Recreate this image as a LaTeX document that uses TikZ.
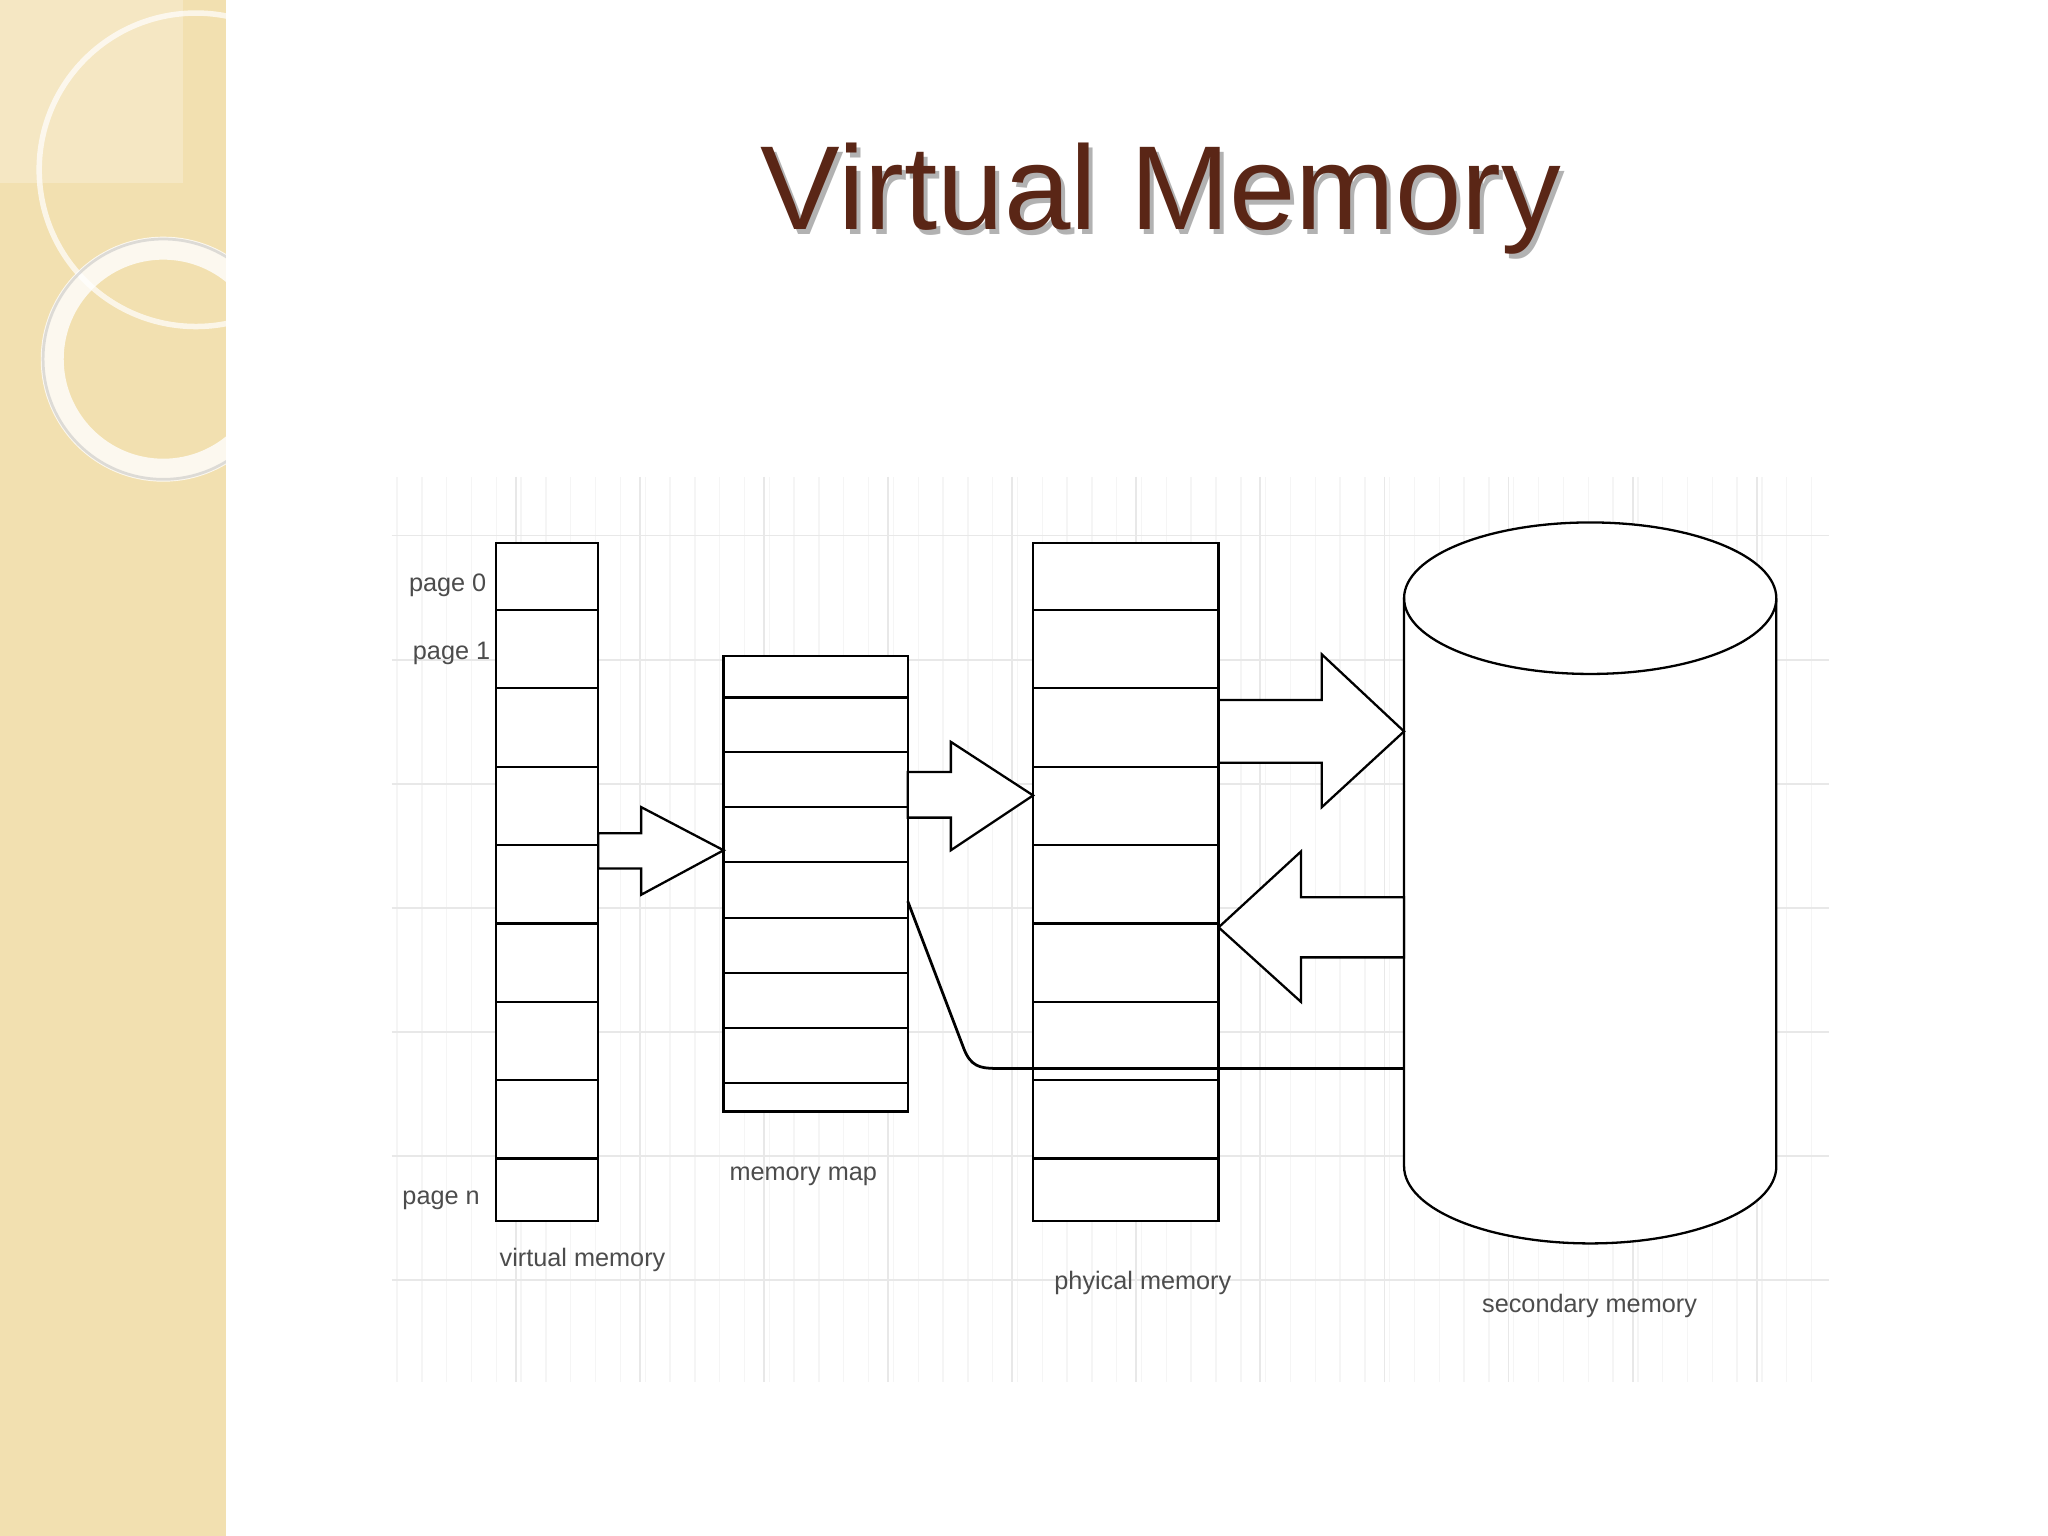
\documentclass[tikz,border=0pt]{standalone}
\usepackage{fontspec}
\setmainfont{Liberation Sans}
\usetikzlibrary{calc}
\definecolor{panel}{HTML}{F2E0B0}
\definecolor{titlebrown}{HTML}{5A2616}
\tikzset{
    cell/.style={draw=black, fill=white, line width=0.5pt},
    lab/.style={font=\fontsize{5.5}{6}\selectfont, text=black!70},
    blockarrow/.style={draw=black, fill=white, line width=0.5pt},
}
\begin{document}
\begin{tikzpicture}[x=0.01cm, y=-0.01cm]
    \useasboundingbox (0,0) rectangle (1568,1176);
    \fill[white] (0,0) rectangle (1568,1176);

    % left panel
    \begin{scope}
    \clip (0,0) rectangle (173,1176);
    \fill[panel] (0,0) rectangle (173,1176);
    \fill[white, opacity=0.25] (0,0) rectangle (140,140);
    \draw[white, opacity=0.7, line width=1.2pt] (150,130) circle [radius=120];
    \draw[white, opacity=0.8, line width=5pt] (125,275) circle [radius=85];
    \draw[black!25, opacity=0.5, line width=0.6pt] (125,275) circle [radius=92];
    \end{scope}

    % title
    \node[text=black!30, font=\fontsize{26}{30}\selectfont] at (892,156) {Virtual Memory};
    \node[text=titlebrown, font=\fontsize{26}{30}\selectfont] (title) at (889,152) {Virtual Memory};

    % grid
    \draw[black!4, line width=0.3pt, step=19] (300,365) grid (1400,1058);
    \foreach \gx in {395,490,585,680,775,870,965,1060,1155,1250,1345}
        \draw[black!9, line width=0.4pt] (\gx,365) -- (\gx,1058);
    \foreach \gy in {410,505,600,695,790,885,980}
        \draw[black!9, line width=0.4pt] (300,\gy) -- (1400,\gy);

    % virtual memory
    \newcommand\vmL{380}
    \newcommand\vmR{458}
    \foreach \ya/\yb in {416/467,467/527,527/587,587/647,647/707,707/767,767/827,827/887,887/935}
        \draw[cell] (\vmL,\ya) rectangle (\vmR,\yb);
    \node[lab, anchor=east, inner sep=0pt] (page0) at (373,448) {page 0};
    \node[lab, anchor=east, inner sep=0pt] (page1) at (376,500) {page 1};
    \node[lab, anchor=east, inner sep=0pt] (pagen) at (368,919) {page n};
    \node[lab] (labVM) at (446,965) {virtual memory};

    % memory map
    \newcommand\mmL{554}
    \newcommand\mmR{695}
    \foreach \ya/\yb in {502/534,534/576,576/618,618/660,660/703,703/745,745/787,787/829,829/851}
        \draw[cell] (\mmL,\ya) rectangle (\mmR,\yb);
    \node[lab] (labMM) at (615,901) {memory map};

    % physical memory
    \newcommand\pmL{791}
    \newcommand\pmR{933}
    \foreach \ya/\yb in {416/467,467/527,527/587,587/647,647/707,707/767,767/827,827/887,887/935}
        \draw[cell] (\pmL,\ya) rectangle (\pmR,\yb);
    \node[lab] (labPM) at (875,982) {phyical memory};

    % secondary memory
    \draw[cell] (1075,458) -- (1075,893) arc[start angle=180, end angle=360, x radius=142.5, y radius=-59]
        -- (1360,458) arc[start angle=0, end angle=180, x radius=142.5, y radius=-58] -- cycle;
    \draw[line width=0.5pt] (1075,458) arc[start angle=180, end angle=360, x radius=142.5, y radius=-58];
    \node[lab] (labSM) at (1217,1000) {secondary memory};

    % block arrows
    \draw[blockarrow] (458,638) -- (491,638) -- (491,618) -- (554,651) -- (491,685) -- (491,665) -- (458,665) -- cycle;
    \draw[blockarrow] (695,591) -- (728,591) -- (728,568) -- (791,609) -- (728,651) -- (728,626) -- (695,626) -- cycle;
    \draw[blockarrow] (933,536) -- (1012,536) -- (1012,501) -- (1075,560) -- (1012,618) -- (1012,584) -- (933,584) -- cycle;
    \draw[blockarrow] (1075,687) -- (996,687) -- (996,652) -- (933,710) -- (996,767) -- (996,733) -- (1075,733) -- cycle;

    % map line
    \coordinate (mapOut) at (695,690);
    \coordinate (diskIn) at (1075,818);
    \draw[line width=0.6pt] (mapOut) -- (738,803) .. controls (743,816) and (750,818) .. (762,818) -- (diskIn);
\end{tikzpicture}
\end{document}
